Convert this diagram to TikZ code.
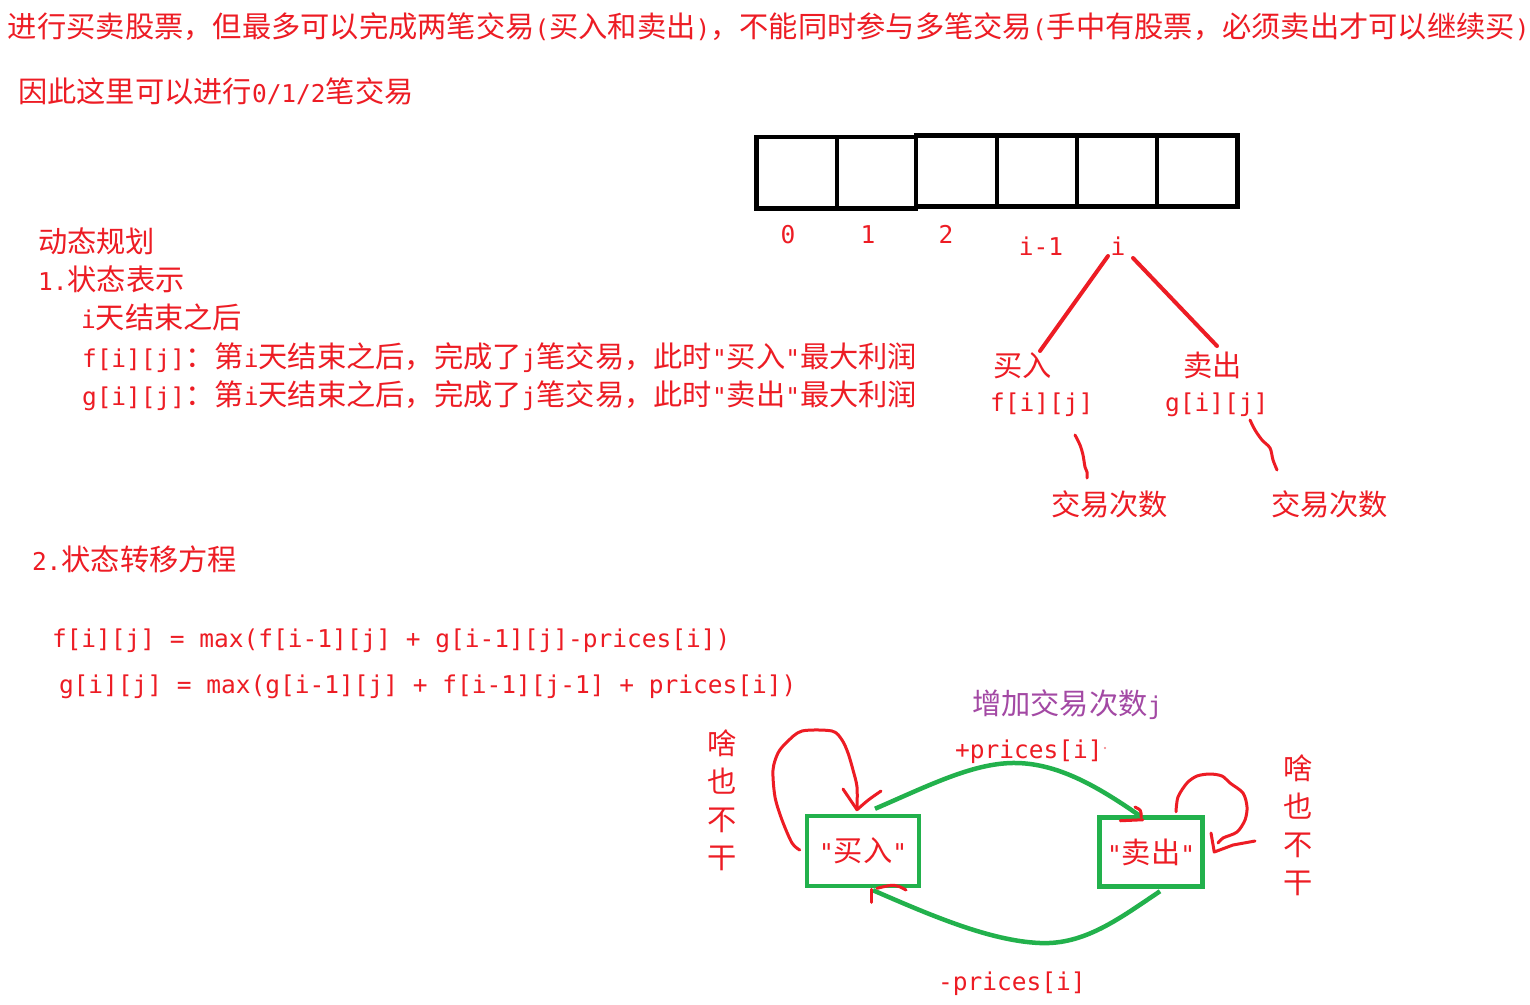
\documentclass[tikz,border=0pt]{standalone}
\usepackage{fontspec}
\setmainfont{Noto Sans CJK SC}
\newfontfamily\monof{DejaVu Sans Mono}
\newcommand\M[1]{{\monof\fontsize{24.5}{29}\selectfont #1}}
\usetikzlibrary{calc}
\definecolor{pred}{RGB}{237,28,36}
\definecolor{pgreen}{RGB}{34,177,76}
\definecolor{ppurple}{RGB}{163,73,164}
\tikzset{
  txt/.style={inner sep=0pt, outer sep=0pt, text=pred, font=\fontsize{29.25}{38}\selectfont, anchor=base west},
  mono/.style={inner sep=0pt, outer sep=0pt, text=pred, font=\monof\fontsize{24.5}{29}\selectfont, anchor=base west},
  gbox/.style={draw=pgreen, line width=4.5pt, inner sep=0pt, text=pred, font=\fontsize{29.25}{38}\selectfont},
  rl/.style={draw=pred, line width=3pt, line cap=round, line join=round},
  rlt/.style={draw=pred, line width=4pt, line cap=round},
  gl/.style={draw=pgreen, line width=4.5pt},
  cell/.style={draw=black, line width=4.5pt}
}
\begin{document}
\begin{tikzpicture}[x=1pt,y=-1pt]
\fill[white] (0,0) rectangle (1530,1004);
\useasboundingbox (0,0) rectangle (1530,1004);

% header text
\node[txt] (title) at (8,37) {进行买卖股票，但最多可以完成两笔交易\M{(}买入和卖出\M{)}，不能同时参与多笔交易\M{(}手中有股票，必须卖出才可以继续买\M{)}};
\node[txt] (l2) at (18,102) {因此这里可以进行\M{0/1/2}笔交易};

% state description
\node[txt] (dp) at (38,252) {动态规划};
\node[txt] (s1) at (38,290) {\M{1.}状态表示};
\node[txt] (s1a) at (81,328) {\M{i}天结束之后};
\node[txt] (fdef) at (82,367) {\M{f[i][j]}：第\M{i}天结束之后，完成了\M{j}笔交易，此时\M{"}买入\M{"}最大利润};
\node[txt] (gdef) at (82,405) {\M{g[i][j]}：第\M{i}天结束之后，完成了\M{j}笔交易，此时\M{"}卖出\M{"}最大利润};

% transitions
\node[txt] (s2) at (32,570) {\M{2.}状态转移方程};
\node[mono] (eq1) at (52,647) {f[i][j] = max(f[i-1][j] + g[i-1][j]-prices[i])};
\node[mono] (eq2) at (59,693) {g[i][j] = max(g[i-1][j] + f[i-1][j-1] + prices[i])};

% array
\draw[cell] (756.5,137) rectangle (916,208.5);
\draw[cell] (916,135.5) rectangle (1237.5,206.5);
\draw[cell] (837,137) -- (837,208.5);
\draw[cell] (997,135.5) -- (997,206.5);
\draw[cell] (1077,135.5) -- (1077,206.5);
\draw[cell] (1157,135.5) -- (1157,206.5);
\node[mono, anchor=base] (a0) at (788,243) {0};
\node[mono, anchor=base] (a1) at (868,243) {1};
\node[mono, anchor=base] (a2) at (946,243) {2};
\node[mono, anchor=base] (aim) at (1041,255) {i-1};
\node[mono, anchor=base] (ai) at (1118,255) {i};

% tree
\node[txt] (tbuy) at (993,376) {买入};
\node[mono] (tf) at (990,411) {f[i][j]};
\node[txt] (tsell) at (1183,376) {卖出};
\node[mono] (tg) at (1165,411) {g[i][j]};
\node[txt] (cnt1) at (1051,515) {交易次数};
\node[txt] (cnt2) at (1271,515) {交易次数};
\coordinate (t1a) at (1108,256);
\coordinate (t1b) at (1040,351);
\coordinate (t2a) at (1133,258);
\coordinate (t2b) at (1217,346);
\draw[rlt] (t1a) -- (t1b);
\draw[rlt] (t2a) -- (t2b);
\draw[rl] plot[smooth] coordinates {(1075,435) (1080,445) (1083,455) (1085,467) (1087,472) (1087,478)};
\draw[rl] plot[smooth] coordinates {(1250,420) (1255,430) (1262,440) (1270,448) (1273,460) (1277,470)};

% state machine
\node[txt, text=ppurple] (inc) at (972,714) {增加交易次数\M{j}};
\node[mono] (plus) at (955,758) {+prices[i]};
\fill[pred!60] (1105,748) circle (1.2pt);
\node[mono] (minus) at (938,990) {-prices[i]};
\node[gbox, minimum width=112pt, minimum height=70pt] (buy) at (863,851) {\M{"}买入\M{"}};
\node[gbox, minimum width=103pt, minimum height=69pt] (sell) at (1151,852) {\M{"}卖出\M{"}};
\node[txt, anchor=center, align=center] (nl) at (722,800) {啥\\也\\不\\干};
\node[txt, anchor=center, align=center] (nr) at (1298,825) {啥\\也\\不\\干};

% green transitions
\draw[gl] ($(buy.north)+(12,-5)$) .. controls (930,785) and (975,762) .. (1017,763)
   .. controls (1060,764) and (1100,788) .. ($(sell.north west)+(44,1.5)$);
\draw[gl] ($(sell.south)+(9,2.5)$) .. controls (1120,918) and (1085,945) .. (1040,943)
   .. controls (990,941) and (930,915) .. ($(buy.south)+(10,2)$);
% red arrow marks on green curves
\draw[rl] (1135,807) .. controls (1141,810) .. ($(sell.north west)+(44,2)$);
\draw[rl] ($(sell.north west)+(23,5.5)$) -- ($(sell.north west)+(45.5,4.5)$);
\draw[rl] ($(buy.south)+(8,1)$) -- ($(buy.south)+(8,14)$);
\draw[rl] ($(buy.south)+(14,0)$) .. controls (895,884) .. (906,890);

% self loops
\draw[rl] plot[smooth] coordinates {($(buy.west)+(-5,-1)$) (792,843) (782,820) (775,797) (773,770) (778,753) (787,742) (802,731) (832,731) (842,740) (848,753) (853,770) (857,787) ($(buy.north)+(-6,-4)$)};
\draw[rl] (843,789) -- ($(buy.north)+(-6,-4)$);
\draw[rl] (881,791) .. controls (868,800) .. ($(buy.north)+(-6,-4)$);
\draw[rl] plot[smooth] coordinates {($(sell.north)+(25,-3.5)$) (1178,797) (1187,783) (1197,776) (1210,774) (1222,776) (1230,783) (1243,793) (1247,807) (1245,820) (1237,832) (1223,838) (1218,843)};
\draw[rl] (1211,833) -- ($(sell.east)+(9.5,0)$) -- (1233,845) -- (1255,841);
\end{tikzpicture}
\end{document}
